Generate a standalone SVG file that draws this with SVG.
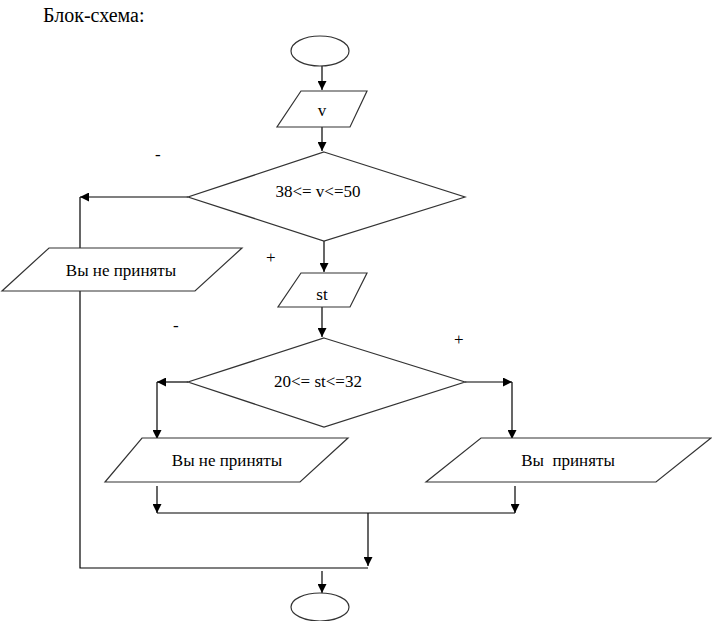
<svg xmlns="http://www.w3.org/2000/svg" width="712" height="621" viewBox="0 0 712 621">
<defs>
<marker id="a" viewBox="0 0 10 10" refX="10" refY="5" markerWidth="9" markerHeight="9" markerUnits="userSpaceOnUse" orient="auto"><path d="M0,0L10,5L0,10z" fill="#000"/></marker>
<style>
.s{fill:#fff;stroke:#333;stroke-width:1.2}
.c{fill:none;stroke:#000;stroke-width:1.2}
text{font-family:"Liberation Serif",serif;font-size:17px;fill:#000}
.m{text-anchor:middle}
</style>
</defs>
<rect width="712" height="621" fill="#fff"/>
<text x="43" y="22" font-size="20" style="font-size:20px">Блок-схема:</text>
<g id="connectors">
<path class="c" d="M322,66V90" marker-end="url(#a)"/>
<path class="c" d="M322,127V151" marker-end="url(#a)"/>
<path class="c" d="M188,197H80" marker-end="url(#a)"/>
<path class="c" d="M80,197V568H368"/>
<path class="c" d="M324,241V272" marker-end="url(#a)"/>
<path class="c" d="M322,307V337" marker-end="url(#a)"/>
<path class="c" d="M188,382H157" marker-end="url(#a)"/>
<path class="c" d="M157,382V439" marker-end="url(#a)"/>
<path class="c" d="M465,382H512" marker-end="url(#a)"/>
<path class="c" d="M512,382V439" marker-end="url(#a)"/>
<path class="c" d="M157,486V513" marker-end="url(#a)"/>
<path class="c" d="M515,486V513" marker-end="url(#a)"/>
<path class="c" d="M157,513H515"/>
<path class="c" d="M368,513V566" marker-end="url(#a)"/>
<path class="c" d="M322,571V593" marker-end="url(#a)"/>
</g>
<g id="start"><ellipse class="s" cx="320" cy="51" rx="29" ry="15"/></g>
<g id="inputV"><polygon class="s" points="301,91 367,91 350,127 277,127"/><text class="m" x="322" y="116">v</text></g>
<g id="cond1"><polygon class="s" points="324,152 465,197 324,241 188,197"/><text class="m" x="318" y="197">38&lt;= v&lt;=50</text></g>
<g id="out1"><polygon class="s" points="49,248 242,248 195,291 2,291"/><text class="m" x="121" y="276">Вы не приняты</text></g>
<text x="155" y="160">-</text>
<text x="266" y="263">+</text>
<g id="inputSt"><polygon class="s" points="301,273 367,273 350,307 278,307"/><text class="m" x="322" y="300">st</text></g>
<g id="cond2"><polygon class="s" points="324,338 465,382 324,427 188,382"/><text class="m" x="318" y="387">20&lt;= st&lt;=32</text></g>
<text x="173" y="331">-</text>
<text x="454" y="345">+</text>
<g id="out2"><polygon class="s" points="142,438 348,438 300,482 105,482"/><text class="m" x="227" y="466">Вы не приняты</text></g>
<g id="out3"><polygon class="s" points="481,438 711,438 656,482 426,482"/><text class="m" x="568" y="466" xml:space="preserve">Вы  приняты</text></g>
<g id="end"><ellipse class="s" cx="320" cy="607" rx="29" ry="14"/></g>
</svg>
